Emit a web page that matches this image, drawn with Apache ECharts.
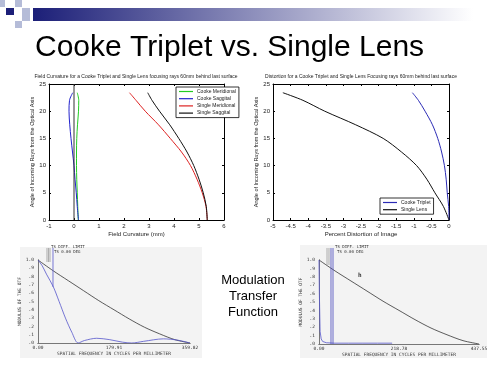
<!DOCTYPE html>
<html><head><meta charset="utf-8">
<script src="https://cdn.jsdelivr.net/npm/echarts@6/dist/echarts.min.js"></script>
<style>html,body{margin:0;padding:0;background:#fff}#c{width:500px;height:375px}</style>
</head><body><div id="c"></div>
<script>
// ---- Field curvature (left chart) ----
const angles = [0, 2.5, 5, 7.5, 10, 12.5, 15, 17.5, 20, 22, 23.4];
const cookeMeridional = [0.17, 0.15, 0.13, 0.11, 0.10, 0.10, 0.11, 0.14, 0.18, 0.19, 0.13];
const cookeSaggital  = [0.18, 0.13, 0.09, 0.04, 0.0, -0.06, -0.12, -0.17, -0.20, -0.18, -0.05];
const singleMeridional = [5.33, 5.28, 5.13, 4.92, 4.66, 4.30, 3.85, 3.38, 2.85, 2.48, 2.22];
const singleSaggital  = [5.33, 5.29, 5.17, 5.00, 4.79, 4.52, 4.19, 3.83, 3.42, 3.12, 2.95];
const zeroLineX = [0, 0];
const zeroLineY = [0, 25];
// ---- Distortion (right chart) ----
const singleLensDist = [0, -0.16, -0.40, -0.63, -0.92, -1.35, -1.87, -2.65, -3.53, -4.15, -4.72];
const cookeTripletDist = [0, -0.01, -0.05, -0.08, -0.13, -0.21, -0.32, -0.47, -0.68, -0.87, -1.04];
// ---- MTF plots ----
const mtfMaxL = 359.82;
const diffFreqL = [0, 36, 72, 108, 144, 180, 216, 252, 288, 324, 359.82];
const diffModL  = [1, 0.87, 0.75, 0.63, 0.51, 0.40, 0.29, 0.19, 0.11, 0.04, 0];
const blueFreqL = [0, 10, 20, 36, 50, 65, 80, 95, 110, 139, 170, 200, 222, 250, 297, 330, 359.82];
const blueModL  = [1.0, 0.93, 0.83, 0.68, 0.50, 0.30, 0.13, 0.0, 0.03, 0.057, 0.04, 0.01, 0.0, 0.02, 0.05, 0.035, 0];
const keyGrayFreqL = [21.3, 24.9, 28.4];
const keyGrayTopL = 1.145, keyGrayBottomL = 0.976;
const keyBlueFreqL = [35.5];
const keyBlueTopL = 1.145, keyBlueBottomL = 0.675;
const mtfMaxR = 437.55;
const diffFreqR = [0, 43.8, 87.5, 131.3, 175, 218.8, 262.5, 306.3, 350, 393.8, 437.55];
const diffModR  = [1, 0.87, 0.75, 0.63, 0.51, 0.40, 0.29, 0.19, 0.11, 0.04, 0];
const blueFreqR = [0, 1, 3, 6, 10, 20, 40, 80, 120, 160, 200];
const blueModR  = [1.0, 0.6, 0.15, 0.06, 0.03, 0.015, 0.01, 0.01, 0.01, 0.01, 0.01];
const keyGrayFreqR = [21.9, 27.3];
const keyGrayTopR = 1.143, keyGrayBottomR = 0.94;
const keyBlueFreqR = [32.8, 38.3];
const keyBlueTopR = 1.143, keyBlueBottomR = 0.0;
const mtfYTicks = ['.0', '.1', '.2', '.3', '.4', '.5', '.6', '.7', '.8', '.9', '1.0'];

const chart = echarts.init(document.getElementById('c'), null, {renderer: 'canvas'});
const F = 'Liberation Sans, Arial, sans-serif';
const MONO = 'DejaVu Sans Mono, monospace';
const pairs = (xs, ys) => xs.map((x, i) => [x, ys[i]]);
const pairsXY = (vals) => vals.map((v, i) => [v, angles[i]]);

function mAxis(grid, pos, min, max, interval, show) {
  return {type: 'value', gridIndex: grid, position: pos, min, max, interval,
    axisLine: {show: true, onZero: false, lineStyle: {color: '#000', width: 1}},
    axisTick: {show: true, inside: true, length: 2, lineStyle: {color: '#000'}},
    axisLabel: {show: show, fontSize: 6, color: '#222', fontFamily: F, margin: 3},
    splitLine: {show: false}};
}
function mtfAxisX(grid, max) {
  return {type: 'value', gridIndex: grid, min: 0, max: max, interval: max / 2,
    axisLine: {show: true, lineStyle: {color: '#777'}},
    axisTick: {show: false},
    axisLabel: {fontSize: 4.5, color: '#333', fontFamily: MONO, margin: 2, formatter: v => v.toFixed(2)},
    name: 'SPATIAL FREQUENCY IN CYCLES PER MILLIMETER', nameLocation: 'middle', nameGap: 8,
    nameTextStyle: {fontSize: 4.5, color: '#333', fontFamily: MONO},
    splitLine: {show: false}};
}
function mtfAxisY(grid) {
  return {type: 'value', gridIndex: grid, min: 0, max: 1, interval: 0.1,
    axisLine: {show: true, lineStyle: {color: '#777'}},
    axisTick: {show: false},
    axisLabel: {fontSize: 4.5, color: '#333', fontFamily: MONO, margin: 4,
      formatter: v => mtfYTicks[Math.round(v * 10)]},
    name: 'MODULUS OF THE OTF', nameLocation: 'middle', nameGap: 12, nameRotate: 90,
    nameTextStyle: {fontSize: 4.5, color: '#333', fontFamily: MONO},
    splitLine: {show: false}};
}
function mtfFrameX(grid, max) { return {type: 'value', gridIndex: grid, position: 'top', min: 0, max: max,
  axisLine: {show: true, lineStyle: {color: '#777'}}, axisTick: {show: false}, axisLabel: {show: false}, splitLine: {show: false}}; }
function mtfFrameY(grid) { return {type: 'value', gridIndex: grid, position: 'right', min: 0, max: 1,
  axisLine: {show: true, lineStyle: {color: '#777'}}, axisTick: {show: false}, axisLabel: {show: false}, splitLine: {show: false}}; }

const line = (name, xi, yi, data, color, extra) => Object.assign({name, type: 'line', xAxisIndex: xi, yAxisIndex: yi,
  data, showSymbol: false, symbol: 'none', smooth: 0.3, lineStyle: {color, width: 1}, itemStyle: {color}, animation: false, z: 3}, extra || {});

// vertical key lines of the MTF plots (one series, separated by null gaps)
function keyLines(freqs, top, bottom) {
  const out = [];
  freqs.forEach((f, i) => { if (i) out.push(null); out.push([f, top], [f, bottom]); });
  return out;
}
const keyLine = (name, xi, data, color) => line(name, xi, xi, data, color,
  {smooth: false, clip: false, connectNulls: false, lineStyle: {color, width: 0.8}, z: 4});

const legendBase = {orient: 'vertical', backgroundColor: '#fff', borderColor: '#000', borderWidth: 0.8,
  padding: [2, 3, 2, 3], itemGap: 2.2, itemWidth: 14, itemHeight: 1.2, icon: 'rect',
  textStyle: {fontFamily: F, fontSize: 5, color: '#222', padding: [0, 0, 0, -1]}};

const option = {
  animation: false,
  backgroundColor: '#fff',
  title: [
    {text: 'Cooke Triplet vs. Single Lens', left: 35, top: 33, padding: 0, textStyle: {fontFamily: F, fontSize: 30, fontWeight: 'normal', color: '#000'}},
    {text: 'Field Curvature for a Cooke Triplet and Single Lens focusing rays 60mm behind last surface', left: 136, top: 74, padding: 0, textAlign: 'center',
      textStyle: {fontFamily: F, fontSize: 5, fontWeight: 'normal', color: '#222'}},
    {text: 'Distortion for a Cooke Triplet and Single Lens Focusing rays 60mm behind last surface', left: 361, top: 74, padding: 0, textAlign: 'center',
      textStyle: {fontFamily: F, fontSize: 5, fontWeight: 'normal', color: '#222'}},
    {text: 'Modulation\nTransfer\nFunction', left: 253, top: 272, padding: 0, textAlign: 'center',
      textStyle: {fontFamily: F, fontSize: 13, fontWeight: 'normal', color: '#000', lineHeight: 16}}
  ],
  legend: [
    Object.assign({}, legendBase, {data: ['Cooke Meridional', 'Cooke Saggital', 'Single Meridional', 'Single Saggital'], left: 176, top: 87}),
    Object.assign({}, legendBase, {data: ['Cooke Triplet', 'Single Lens'], left: 380, top: 198})
  ],
  grid: [
    {left: 49, top: 84, width: 175, height: 136},
    {left: 273, top: 84, width: 176, height: 136},
    {left: 38, top: 260, width: 152, height: 83},
    {left: 319, top: 260, width: 160, height: 84}
  ],
  xAxis: [
    Object.assign(mAxis(0, 'bottom', -1, 6, 1, true), {name: 'Field Curvature (mm)', nameLocation: 'middle', nameGap: 11,
      nameTextStyle: {fontFamily: F, fontSize: 6, color: '#222'}}),
    mAxis(0, 'top', -1, 6, 1, false),
    Object.assign(mAxis(1, 'bottom', -5, 0, 0.5, true), {name: 'Percent Distortion of Image', nameLocation: 'middle', nameGap: 11,
      nameTextStyle: {fontFamily: F, fontSize: 6, color: '#222'}}),
    mAxis(1, 'top', -5, 0, 0.5, false),
    mtfAxisX(2, mtfMaxL), mtfFrameX(2, mtfMaxL),
    mtfAxisX(3, mtfMaxR), mtfFrameX(3, mtfMaxR)
  ],
  yAxis: [
    Object.assign(mAxis(0, 'left', 0, 25, 5, true), {name: 'Angle of Incoming Rays from the Optical Axis', nameLocation: 'middle', nameGap: 10,
      nameRotate: 90, nameTextStyle: {fontFamily: F, fontSize: 5.5, color: '#222'}}),
    mAxis(0, 'right', 0, 25, 5, false),
    Object.assign(mAxis(1, 'left', 0, 25, 5, true), {name: 'Angle of Incoming Rays from the Optical Axis', nameLocation: 'middle', nameGap: 10,
      nameRotate: 90, nameTextStyle: {fontFamily: F, fontSize: 5.5, color: '#222'}}),
    mAxis(1, 'right', 0, 25, 5, false),
    mtfAxisY(2), mtfFrameY(2),
    mtfAxisY(3), mtfFrameY(3)
  ],
  graphic: [
    {type: 'rect', shape: {x: 33, y: 8, width: 440, height: 13}, z: -1,
      style: {fill: new echarts.graphic.LinearGradient(0, 0, 1, 0, [{offset: 0, color: '#1c1f78'}, {offset: 1, color: '#ffffff'}])}},
    {type: 'rect', shape: {x: 0, y: 0, width: 5, height: 7}, style: {fill: '#b5bcd8'}},
    {type: 'rect', shape: {x: 6, y: 8, width: 8, height: 7}, style: {fill: '#1c1f78'}},
    {type: 'rect', shape: {x: 15, y: 0, width: 7, height: 7}, style: {fill: '#b5bcd8'}},
    {type: 'rect', shape: {x: 22, y: 8, width: 8, height: 13}, style: {fill: '#b5bcd8'}},
    {type: 'rect', shape: {x: 15, y: 21, width: 7, height: 7}, style: {fill: '#b5bcd8'}},
    {type: 'rect', shape: {x: 20, y: 247, width: 182, height: 111}, z: -2, style: {fill: '#f3f3f3'}},
    {type: 'rect', shape: {x: 300, y: 245, width: 187, height: 113}, z: -2, style: {fill: '#f3f3f3'}},
    {type: 'text', left: 51, top: 245, z: 5, style: {text: 'TS DIFF. LIMIT', fontSize: 4, fill: '#333', fontFamily: MONO}},
    {type: 'text', left: 54, top: 250, z: 5, style: {text: 'TS 0.00 DEG', fontSize: 4, fill: '#333', fontFamily: MONO}},
    {type: 'text', left: 335, top: 245, z: 5, style: {text: 'TS DIFF. LIMIT', fontSize: 4, fill: '#333', fontFamily: MONO}},
    {type: 'text', left: 337, top: 250, z: 5, style: {text: 'TS 0.00 DEG', fontSize: 4, fill: '#333', fontFamily: MONO}},
    {type: 'text', left: 358, top: 272, z: 5, style: {text: 'h', fontSize: 6, fontWeight: 'bold', fill: '#333', fontFamily: MONO}}
  ],
  series: [
    line('Cooke Meridional', 0, 0, pairsXY(cookeMeridional), '#22cc22'),
    line('Cooke Saggital', 0, 0, pairsXY(cookeSaggital), '#2222cc'),
    line('Single Meridional', 0, 0, pairsXY(singleMeridional), '#dd2222'),
    line('Single Saggital', 0, 0, pairsXY(singleSaggital), '#111111'),
    line('zero', 0, 0, pairs(zeroLineX, zeroLineY), '#333333', {smooth: false}),
    line('Cooke Triplet', 2, 2, pairsXY(cookeTripletDist), '#2b2bb5'),
    line('Single Lens', 2, 2, pairsXY(singleLensDist), '#111111'),
    line('diffL', 4, 4, pairs(diffFreqL, diffModL), '#333', {lineStyle: {color: '#333', width: 0.8}}),
    line('mtfL', 4, 4, pairs(blueFreqL, blueModL), '#5555cc', {lineStyle: {color: '#5555cc', width: 0.8}}),
    keyLine('keyGrayL', 4, keyLines(keyGrayFreqL, keyGrayTopL, keyGrayBottomL), '#999'),
    keyLine('keyBlueL', 4, keyLines(keyBlueFreqL, keyBlueTopL, keyBlueBottomL), '#5555cc'),
    line('diffR', 6, 6, pairs(diffFreqR, diffModR), '#333', {lineStyle: {color: '#333', width: 0.8}}),
    line('mtfR', 6, 6, pairs(blueFreqR, blueModR), '#5555cc', {lineStyle: {color: '#5555cc', width: 0.8}, smooth: false}),
    keyLine('keyGrayR', 6, keyLines(keyGrayFreqR, keyGrayTopR, keyGrayBottomR), '#999'),
    keyLine('keyBlueR', 6, keyLines(keyBlueFreqR, keyBlueTopR, keyBlueBottomR), '#4444bb')
  ]
};
chart.setOption(option);
</script></body></html>
